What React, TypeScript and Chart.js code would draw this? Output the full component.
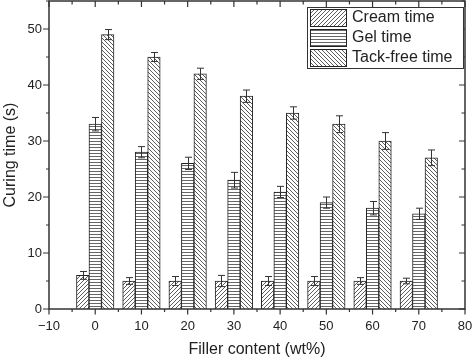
import React, { useEffect, useRef } from "react";
import { Chart, registerables } from "chart.js";

Chart.register(...registerables);

const fillerContent = [0, 10, 20, 30, 40, 50, 60, 70];
const creamTime = [6, 5, 5, 5, 5, 5, 5, 5];
const creamErr = [0.7, 0.6, 0.8, 1.0, 0.8, 0.8, 0.6, 0.5];
const gelTime = [33, 28, 26, 23, 20.9, 19, 18, 17];
const gelErr = [1.2, 1.0, 1.1, 1.4, 1.0, 1.0, 1.2, 1.0];
const tackFreeTime = [49, 45, 42, 38, 35, 33, 30, 27];
const tackFreeErr = [0.9, 0.8, 1.0, 1.1, 1.1, 1.5, 1.5, 1.4];
const seriesNames = ["Cream time", "Gel time", "Tack-free time"];
const xTicks = [-10, 0, 10, 20, 30, 40, 50, 60, 70, 80];
const yTicks = [0, 10, 20, 30, 40, 50];

const FONT = "'Liberation Sans', Arial, sans-serif";
const INK = "#222";

function makePattern(kind: string): CanvasPattern | string {
  const c = document.createElement("canvas");
  const ctx = c.getContext("2d");
  if (!ctx) return "#fff";
  if (kind === "h") {
    c.width = 4;
    c.height = 3;
    ctx.fillStyle = "#fff";
    ctx.fillRect(0, 0, 4, 3);
    ctx.strokeStyle = "#666";
    ctx.lineWidth = 1;
    ctx.beginPath();
    ctx.moveTo(0, 0.5);
    ctx.lineTo(4, 0.5);
    ctx.stroke();
  } else {
    const s = 4;
    c.width = s;
    c.height = s;
    ctx.fillStyle = "#fff";
    ctx.fillRect(0, 0, s, s);
    ctx.strokeStyle = "#333";
    ctx.lineWidth = 0.8;
    ctx.beginPath();
    if (kind === "/") {
      ctx.moveTo(-1, s + 1);
      ctx.lineTo(s + 1, -1);
      ctx.moveTo(-1, 1);
      ctx.lineTo(1, -1);
      ctx.moveTo(s - 1, s + 1);
      ctx.lineTo(s + 1, s - 1);
    } else {
      ctx.moveTo(-1, -1);
      ctx.lineTo(s + 1, s + 1);
      ctx.moveTo(s - 1, -1);
      ctx.lineTo(s + 1, 1);
      ctx.moveTo(-1, s - 1);
      ctx.lineTo(1, s + 1);
    }
    ctx.stroke();
  }
  const p = ctx.createPattern(c, "repeat");
  return p || "#fff";
}

function zeroPad(s: any) {
  s.paddingTop = 0;
  s.paddingBottom = 0;
  s.paddingLeft = 0;
  s.paddingRight = 0;
}

export default function App() {
  const ref = useRef<HTMLCanvasElement | null>(null);

  useEffect(() => {
    if (!ref.current) return;
    const patterns = [makePattern("/"), makePattern("h"), makePattern("\\")];
    const errs = [creamErr, gelErr, tackFreeErr];
    const vals = [creamTime, gelTime, tackFreeTime];

    const decor = {
      id: "decor",
      afterDatasetsDraw(chart: any) {
        const ctx = chart.ctx;
        const ys = chart.scales.y;
        ctx.save();
        ctx.strokeStyle = "#333";
        ctx.lineWidth = 1;
        vals.forEach((arr, di) => {
          const meta = chart.getDatasetMeta(di);
          meta.data.forEach((el: any, i: number) => {
            const x = Math.round(el.x) + 0.5;
            const yt = ys.getPixelForValue(arr[i] + errs[di][i]);
            const yb = ys.getPixelForValue(arr[i] - errs[di][i]);
            ctx.beginPath();
            ctx.moveTo(x, yt);
            ctx.lineTo(x, yb);
            ctx.moveTo(x - 3.5, yt);
            ctx.lineTo(x + 3.5, yt);
            ctx.moveTo(x - 3.5, yb);
            ctx.lineTo(x + 3.5, yb);
            ctx.stroke();
          });
        });
        ctx.restore();
      },
      afterDraw(chart: any) {
        const ctx = chart.ctx;
        const a = chart.chartArea;
        const xs = chart.scales.x;
        const ys = chart.scales.y;
        ctx.save();
        ctx.strokeStyle = "#333";
        ctx.lineWidth = 1.5;
        ctx.strokeRect(a.left, a.top, a.right - a.left, a.bottom - a.top);
        ctx.lineWidth = 1.2;
        ctx.beginPath();
        for (let v = -10; v <= 80; v += 5) {
          const major = v % 10 === 0;
          const x = xs.getPixelForValue(v);
          const len = major ? 5.5 : 3;
          ctx.moveTo(x, a.bottom);
          ctx.lineTo(x, a.bottom + len);
          ctx.moveTo(x, a.top);
          ctx.lineTo(x, a.top + (major ? 6 : 3.5));
        }
        for (let v = 0; v <= 55; v += 5) {
          const major = v % 10 === 0;
          const y = ys.getPixelForValue(v);
          ctx.moveTo(a.left, y);
          ctx.lineTo(a.left - (major ? 6 : 3), y);
          ctx.moveTo(a.right, y);
          ctx.lineTo(a.right - (major ? 6 : 3.5), y);
        }
        ctx.stroke();

        ctx.fillStyle = INK;
        ctx.font = "16px " + FONT;
        ctx.textAlign = "center";
        ctx.textBaseline = "middle";
        ctx.fillText("Filler content (wt%)", (a.left + a.right) / 2, 350);
        ctx.save();
        ctx.translate(11, (a.top + a.bottom) / 2);
        ctx.rotate(-Math.PI / 2);
        ctx.fillText("Curing time (s)", 0, 0);
        ctx.restore();

        const lx = 307, ly = 7, lw = 156, lh = 61;
        ctx.fillStyle = "#fff";
        ctx.fillRect(lx, ly, lw, lh);
        ctx.strokeStyle = "#333";
        ctx.lineWidth = 1;
        ctx.strokeRect(lx + 0.5, ly + 0.5, lw, lh);
        seriesNames.forEach((name, i) => {
          const ry = 9 + i * 20;
          ctx.fillStyle = patterns[i] as any;
          ctx.fillRect(310, ry, 36, 17);
          ctx.strokeStyle = "#222";
          ctx.lineWidth = 1;
          ctx.strokeRect(310.5, ry + 0.5, 36, 17);
          ctx.fillStyle = INK;
          ctx.font = "16px " + FONT;
          ctx.textAlign = "left";
          ctx.textBaseline = "middle";
          ctx.fillText(name, 352, ry + 9);
        });
        ctx.restore();
      },
    };

    const chart = new Chart(ref.current, {
      type: "bar",
      data: {
        datasets: seriesNames.map((name, i) => ({
          label: name,
          data: fillerContent.map((x, j) => ({ x, y: vals[i][j] })),
          backgroundColor: patterns[i] as any,
          borderColor: "#222",
          borderWidth: 1,
          barThickness: 12.5,
        })),
      },
      options: {
        animation: false,
        responsive: false,
        maintainAspectRatio: false,
        layout: { padding: { left: 0, top: 1, right: 9, bottom: 0 } },
        plugins: { legend: { display: false }, tooltip: { enabled: false } },
        scales: {
          x: {
            type: "linear",
            min: -10,
            max: 80,
            offset: false,
            grid: { display: false, drawTicks: false, offset: false },
            border: { display: false },
            afterBuildTicks: (s: any) => {
              s.ticks = xTicks.map((v) => ({ value: v }));
            },
            afterFit: (s: any) => {
              s.height = 52;
              zeroPad(s);
            },
            ticks: {
              padding: 10,
              color: INK,
              font: { family: FONT, size: 13 },
              maxRotation: 0,
              autoSkip: false,
              callback: (v: any) => String(v).replace("-", "\u2212"),
            },
          },
          y: {
            type: "linear",
            min: 0,
            max: 55,
            grid: { display: false, drawTicks: false },
            border: { display: false },
            afterBuildTicks: (s: any) => {
              s.ticks = yTicks.map((v) => ({ value: v }));
            },
            afterFit: (s: any) => {
              s.width = 49;
              zeroPad(s);
            },
            ticks: {
              padding: 7,
              color: INK,
              font: { family: FONT, size: 13 },
            },
          },
        },
      },
      plugins: [decor],
    } as any);
    return () => chart.destroy();
  }, []);

  return (
    <div style={{ position: "fixed", left: 0, top: 0, width: 474, height: 361, background: "#fff" }}>
      <canvas ref={ref} width={474} height={361} style={{ display: "block" }} />
    </div>
  );
}
